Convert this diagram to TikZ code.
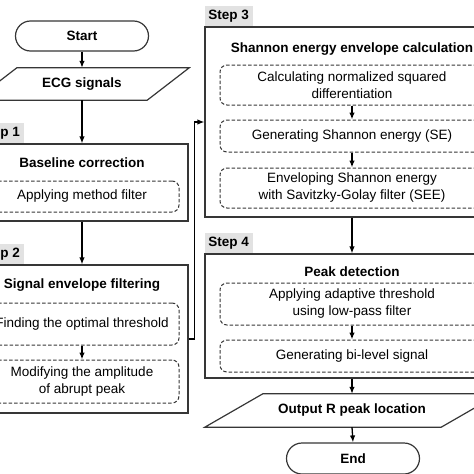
\documentclass[tikz,border=0pt]{standalone}
\usepackage{fontspec}
\setmainfont{Liberation Sans}
\usetikzlibrary{arrows.meta,shapes.misc}
\definecolor{linegray}{HTML}{363636}
\definecolor{labelgray}{HTML}{E2E2E2}
\newcommand{\txtfont}{\fontsize{13.5}{17}\selectfont}
\begin{document}
\begin{tikzpicture}[x=1pt,y=-1pt,
  outer/.style={draw=linegray,line width=1.2pt,inner sep=0pt},
  subbox/.style={draw=linegray,line width=1pt,dash pattern=on 3.5pt off 2pt,rounded corners=7pt,inner sep=0pt,align=center,font=\txtfont},
  termbox/.style={rounded rectangle,draw=linegray,line width=1.2pt,minimum width=133pt,minimum height=30pt,inner sep=0pt,font=\txtfont\bfseries},
  iobox/.style={inner sep=0pt,minimum height=32pt,font=\txtfont\bfseries},
  title/.style={inner sep=0pt,font=\txtfont\bfseries},
  steplabel/.style={fill=labelgray,minimum width=48pt,minimum height=20pt,inner sep=0pt,font=\txtfont\bfseries},
  arr/.style={-{Latex[length=7pt,width=5.5pt]},line width=1.3pt}]
\useasboundingbox (0,0) rectangle (474,474);
\clip (0,0) rectangle (474,474);

% left column
\node [termbox] (start) at (82,36) {Start};
\node [iobox,minimum width=172pt] (ecg) at (82,84) {ECG signals};
\draw [linegray,line width=1.2pt] ([xshift=21pt]ecg.north west) -- ([xshift=21pt]ecg.north east)
  -- ([xshift=-21pt]ecg.south east) -- ([xshift=-21pt]ecg.south west) -- cycle;

\node [outer,minimum width=212pt,minimum height=77pt] (s1) at (82,182.5) {};
\node [steplabel,anchor=south west] (l1) at (s1.north west) {Step 1};
\node [title] (t1) at (82,163) {Baseline correction};
\node [subbox,minimum width=194pt,minimum height=31pt] (s1a) at (82,196.5) {Applying method filter};

\node [outer,minimum width=212pt,minimum height=148pt] (s2) at (82,339) {};
\node [steplabel,anchor=south west] (l2) at (s2.north west) {Step 2};
\node [title] (t2) at (82,285) {Signal envelope filtering};
\node [subbox,minimum width=194pt,minimum height=42pt] (s2a) at (82,324) {Finding the optimal threshold};
\node [subbox,minimum width=194pt,minimum height=43pt] (s2b) at (82,381.5) {Modifying the amplitude\\of abrupt peak};

% right column
\node [outer,minimum width=294pt,minimum height=190pt] (s3) at (352,122) {};
\node [steplabel,anchor=south west] (l3) at (s3.north west) {Step 3};
\node [title] (t3) at (352,49) {Shannon energy envelope calculation};
\node [subbox,minimum width=264pt,minimum height=40pt] (s3a) at (352,85) {Calculating normalized squared\\differentiation};
\node [subbox,minimum width=264pt,minimum height=32pt] (s3b) at (352,136) {Generating Shannon energy (SE)};
\node [subbox,minimum width=264pt,minimum height=40pt] (s3c) at (352,188) {Enveloping Shannon energy\\with Savitzky-Golay filter (SEE)};

\node [outer,minimum width=294pt,minimum height=124pt] (s4) at (352,316) {};
\node [steplabel,anchor=south west] (l4) at (s4.north west) {Step 4};
\node [title] (t4) at (352,272) {Peak detection};
\node [subbox,minimum width=264pt,minimum height=42pt] (s4a) at (352,304) {Applying adaptive threshold\\using low-pass filter};
\node [subbox,minimum width=264pt,minimum height=32pt] (s4b) at (352,356) {Generating bi-level signal};

\node [iobox,minimum width=236pt,minimum height=33pt] (outp) at (352,410.5) {Output R peak location};
\draw [linegray,line width=1.2pt] ([xshift=29pt]outp.north west) -- ([xshift=29pt]outp.north east)
  -- ([xshift=-29pt]outp.south east) -- ([xshift=-29pt]outp.south west) -- cycle;
\node [termbox,minimum height=31pt] (finish) at (353,458.5) {End};

% connectors
\draw [arr] (start.south) -- (ecg.north);
\draw [arr] (ecg.south) -- (s1.north);
\draw [arr] (s1.south) -- (s2.north);
\draw [arr] (s2a.south) -- (s2b.north);
\draw [arr] (s2.east) -- ++(6,0) |- (s3.west);
\draw [arr] (s3a.south) -- (s3b.north);
\draw [arr] (s3b.south) -- (s3c.north);
\draw [arr] (s3.south) -- (s4.north);
\draw [arr] (s4a.south) -- (s4b.north);
\draw [arr] (s4.south) -- (outp.north);
\draw [arr] (outp.south) -- (finish.north);
\end{tikzpicture}
\end{document}
